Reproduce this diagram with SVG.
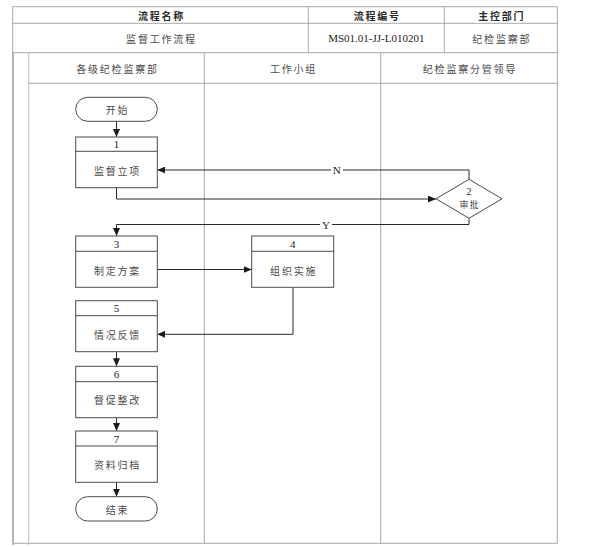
<svg xmlns="http://www.w3.org/2000/svg" width="594" height="547" viewBox="0 0 594 547">
<defs>
<marker id="arr" markerWidth="8" markerHeight="7" refX="8" refY="3.5" orient="auto" markerUnits="userSpaceOnUse">
<path d="M0,0 L8,3.5 L0,7 z" fill="#1a1a1a"/>
</marker>
</defs>
<style>
.grid{stroke:#a8a8a8;stroke-width:1;fill:none}
.box{fill:#ffffff;stroke:#4a4a4a;stroke-width:1}
.cn{font-family:"Noto Sans CJK SC","Noto Sans",sans-serif;font-size:10px;fill:#4a4a4a;letter-spacing:1.8px;text-anchor:middle;dominant-baseline:central}
.hb{font-weight:bold;fill:#2a2a2a}
.num{font-family:"Liberation Serif",serif;font-size:11px;fill:#222;text-anchor:middle;dominant-baseline:central}
.conn{stroke:#2a2a2a;stroke-width:1;fill:none}
</style>
<rect x="0" y="0" width="594" height="547" fill="#ffffff"/>
<g id="table">
<rect class="grid" x="12.7" y="6.7" width="544.6" height="536.6"/>
<line class="grid" x1="12.7" y1="23.3" x2="557.3" y2="23.3"/>
<line class="grid" x1="12.7" y1="52.7" x2="557.3" y2="52.7"/>
<line class="grid" x1="308.3" y1="6.7" x2="308.3" y2="52.7"/>
<line class="grid" x1="444.3" y1="6.7" x2="444.3" y2="52.7"/>
<line x1="13" y1="52.7" x2="13" y2="545" stroke="#b4b4b4" stroke-width="2"/>
<line x1="28.7" y1="52.7" x2="28.7" y2="545" stroke="#b8c0cc" stroke-width="1"/>
<line class="grid" x1="28.7" y1="83.3" x2="557.3" y2="83.3"/>
<line class="grid" x1="204.3" y1="52.7" x2="204.3" y2="543.3"/>
<line class="grid" x1="380.7" y1="52.7" x2="380.7" y2="543.3"/>
<text class="cn hb" x="161.5" y="15">流程名称</text>
<text class="cn hb" x="377.3" y="15">流程编号</text>
<text class="cn hb" x="501.8" y="15">主控部门</text>
<text class="cn" x="161.5" y="38">监督工作流程</text>
<text class="num" x="376.3" y="38">MS01.01-JJ-L010201</text>
<text class="cn" x="501.8" y="38">纪检监察部</text>
<text class="cn" x="117.5" y="68.5">各级纪检监察部</text>
<text class="cn" x="293.5" y="68.5">工作小组</text>
<text class="cn" x="470" y="68.5">纪检监察分管领导</text>
</g>
<g id="connectors">
<line class="conn" x1="116.5" y1="121.3" x2="116.5" y2="137" marker-end="url(#arr)"/>
<polyline class="conn" points="469,179.3 469,170 157.3,170" marker-end="url(#arr)"/>
<polyline class="conn" points="116.5,187.7 116.5,199 436,199" marker-end="url(#arr)"/>
<polyline class="conn" points="469,218.3 469,224.5 116.5,224.5 116.5,236" marker-end="url(#arr)"/>
<line class="conn" x1="157.3" y1="269.5" x2="251.7" y2="269.5" marker-end="url(#arr)"/>
<polyline class="conn" points="293,287.3 293,334.3 157.3,334.3" marker-end="url(#arr)"/>
<line class="conn" x1="116.5" y1="351.7" x2="116.5" y2="366.3" marker-end="url(#arr)"/>
<line class="conn" x1="116.5" y1="417.7" x2="116.5" y2="431" marker-end="url(#arr)"/>
<line class="conn" x1="116.5" y1="482.3" x2="116.5" y2="496.7" marker-end="url(#arr)"/>
<rect x="331" y="165" width="12" height="10" fill="#ffffff"/>
<text class="num" x="336.7" y="170">N</text>
<rect x="320" y="219.5" width="12" height="10" fill="#ffffff"/>
<text class="num" x="326" y="224.5">Y</text>
</g>
<g id="start">
<rect class="box" x="75.7" y="97.3" width="81.6" height="24" rx="12" ry="12"/>
<text class="cn" x="117.5" y="109.3">开始</text>
</g>
<g id="n1">
<rect class="box" x="75.7" y="137" width="81.6" height="50.7"/>
<line class="box" x1="75.7" y1="151.3" x2="157.3" y2="151.3"/>
<text class="num" x="116.5" y="144.3">1</text>
<text class="cn" x="117.5" y="170">监督立项</text>
</g>
<g id="n2">
<polygon class="box" points="469,179.3 502,198.8 469,218.3 436,198.8"/>
<text class="num" x="469" y="191" style="font-size:10px">2</text>
<text class="cn" x="469.5" y="204.5" style="font-size:9px;letter-spacing:1px">审批</text>
</g>
<g id="n3">
<rect class="box" x="75.7" y="236" width="81.6" height="51.3"/>
<line class="box" x1="75.7" y1="251.3" x2="157.3" y2="251.3"/>
<text class="num" x="116.5" y="243.8">3</text>
<text class="cn" x="117.5" y="270">制定方案</text>
</g>
<g id="n4">
<rect class="box" x="251.7" y="236" width="82" height="51.3"/>
<line class="box" x1="251.7" y1="251.3" x2="333.7" y2="251.3"/>
<text class="num" x="292.7" y="243.8">4</text>
<text class="cn" x="293.7" y="270">组织实施</text>
</g>
<g id="n5">
<rect class="box" x="75.7" y="300.7" width="81.6" height="51"/>
<line class="box" x1="75.7" y1="315.7" x2="157.3" y2="315.7"/>
<text class="num" x="116.5" y="308.3">5</text>
<text class="cn" x="117.5" y="334">情况反馈</text>
</g>
<g id="n6">
<rect class="box" x="75.7" y="366.3" width="81.6" height="51.4"/>
<line class="box" x1="75.7" y1="381.7" x2="157.3" y2="381.7"/>
<text class="num" x="116.5" y="374.2">6</text>
<text class="cn" x="117.5" y="399.3">督促整改</text>
</g>
<g id="n7">
<rect class="box" x="75.7" y="431" width="81.6" height="51.3"/>
<line class="box" x1="75.7" y1="446" x2="157.3" y2="446"/>
<text class="num" x="116.5" y="438.5">7</text>
<text class="cn" x="117.5" y="464.3">资料归档</text>
</g>
<g id="end">
<rect class="box" x="75.7" y="496.7" width="81.6" height="24.3" rx="12" ry="12"/>
<text class="cn" x="117.5" y="509">结束</text>
</g>
</svg>
